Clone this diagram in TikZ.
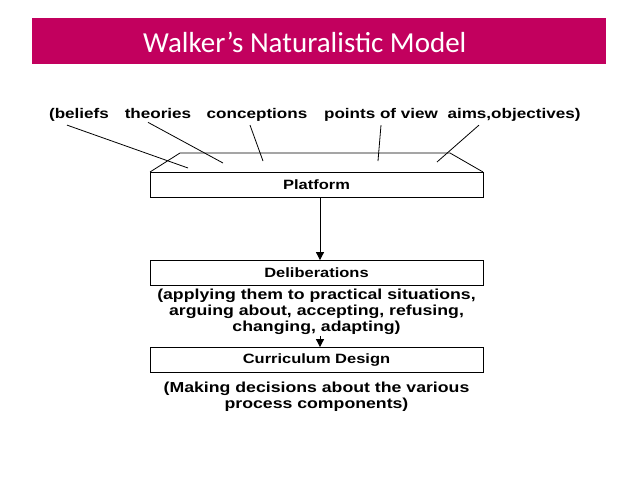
\documentclass[tikz,border=0pt]{standalone}
\usepackage{fontspec}
\setmainfont{Liberation Sans}
\newfontfamily\widefont{Liberation Sans}[FakeStretch=1.22]
\newfontfamily\titlefont{Carlito}
\usetikzlibrary{arrows.meta}
\definecolor{titlebar}{HTML}{C2005E}
\begin{document}
\begin{tikzpicture}[x=1pt,y=-1pt,
every edge/.style = {draw, thick, black},
      stage/.style = {draw, thick, minimum width=333pt, minimum height=25pt,
                      inner sep=0pt, font=\widefont\bfseries\fontsize{13.5}{16}\selectfont},
      note/.style  = {align=center, inner sep=1pt, font=\widefont\bfseries\fontsize{14.5}{16}\selectfont},
      item/.style  = {anchor=base, inner sep=1pt, font=\widefont\bfseries\fontsize{14}{16}\selectfont},
      flow/.style  = {draw, thick, -{Triangle[length=8pt,width=8pt]}}
                    ]
\useasboundingbox (0,0) rectangle (638,479);
\fill[titlebar] (32,18) rectangle (606,64);
\node[anchor=west, inner sep=0pt, text=white, font=\titlefont\fontsize{29}{34}\selectfont] (title) at (143,42) {Walker’s Naturalistic Model};

% labels above the platform
\node[item] (beliefs)  at (79,118)  {(beliefs};
\node[item] (theories) at (158,118) {theories};
\node[item] (concept)  at (257,118) {conceptions};
\node[item] (views)    at (381,118) {points of view};
\node[item] (aims)     at (514,118) {aims,objectives)};

% platform slab
\draw[thick] (150,172) -- (180,153) -- (450,153) -- (483,172);
\node[stage] (platform) at (316.5,185) {Platform};
\coordinate (p1) at (188,168);
\coordinate (p2) at (223,163);
\coordinate (p3) at (263,161);
\coordinate (p4) at (378,161);
\coordinate (p5) at (437,162);
\draw (beliefs.south)  ++(-12,3) coordinate (b1) (b1) edge (p1)
      (theories.south) ++(-10,3) coordinate (b2) (b2) edge (p2)
      (concept.south)  ++(-7,3) coordinate (b3) (b3) edge (p3)
      (views.south)    ++(0,3) coordinate (b4) (b4) edge (p4)
      (aims.south)     ++(-35,3) coordinate (b5) (b5) edge (p5);

\node[stage] (delib) at (316.5,273) {Deliberations};
\node[note, below=2pt] (deltext) at (delib.south) {(applying them to practical situations,\\arguing about, accepting, refusing,\\changing, adapting)};
\node[stage] (design) at (316.5,360) {Curriculum Design};
\node[note, below=8pt] (destext) at (design.south) {(Making decisions about the various\\process components)};

\draw[flow] (platform.south -| 320,0) -- (delib.north -| 320,0);
\draw[flow] (deltext.south -| 320,0) -- (design.north -| 320,0);
\end{tikzpicture}
\end{document}
